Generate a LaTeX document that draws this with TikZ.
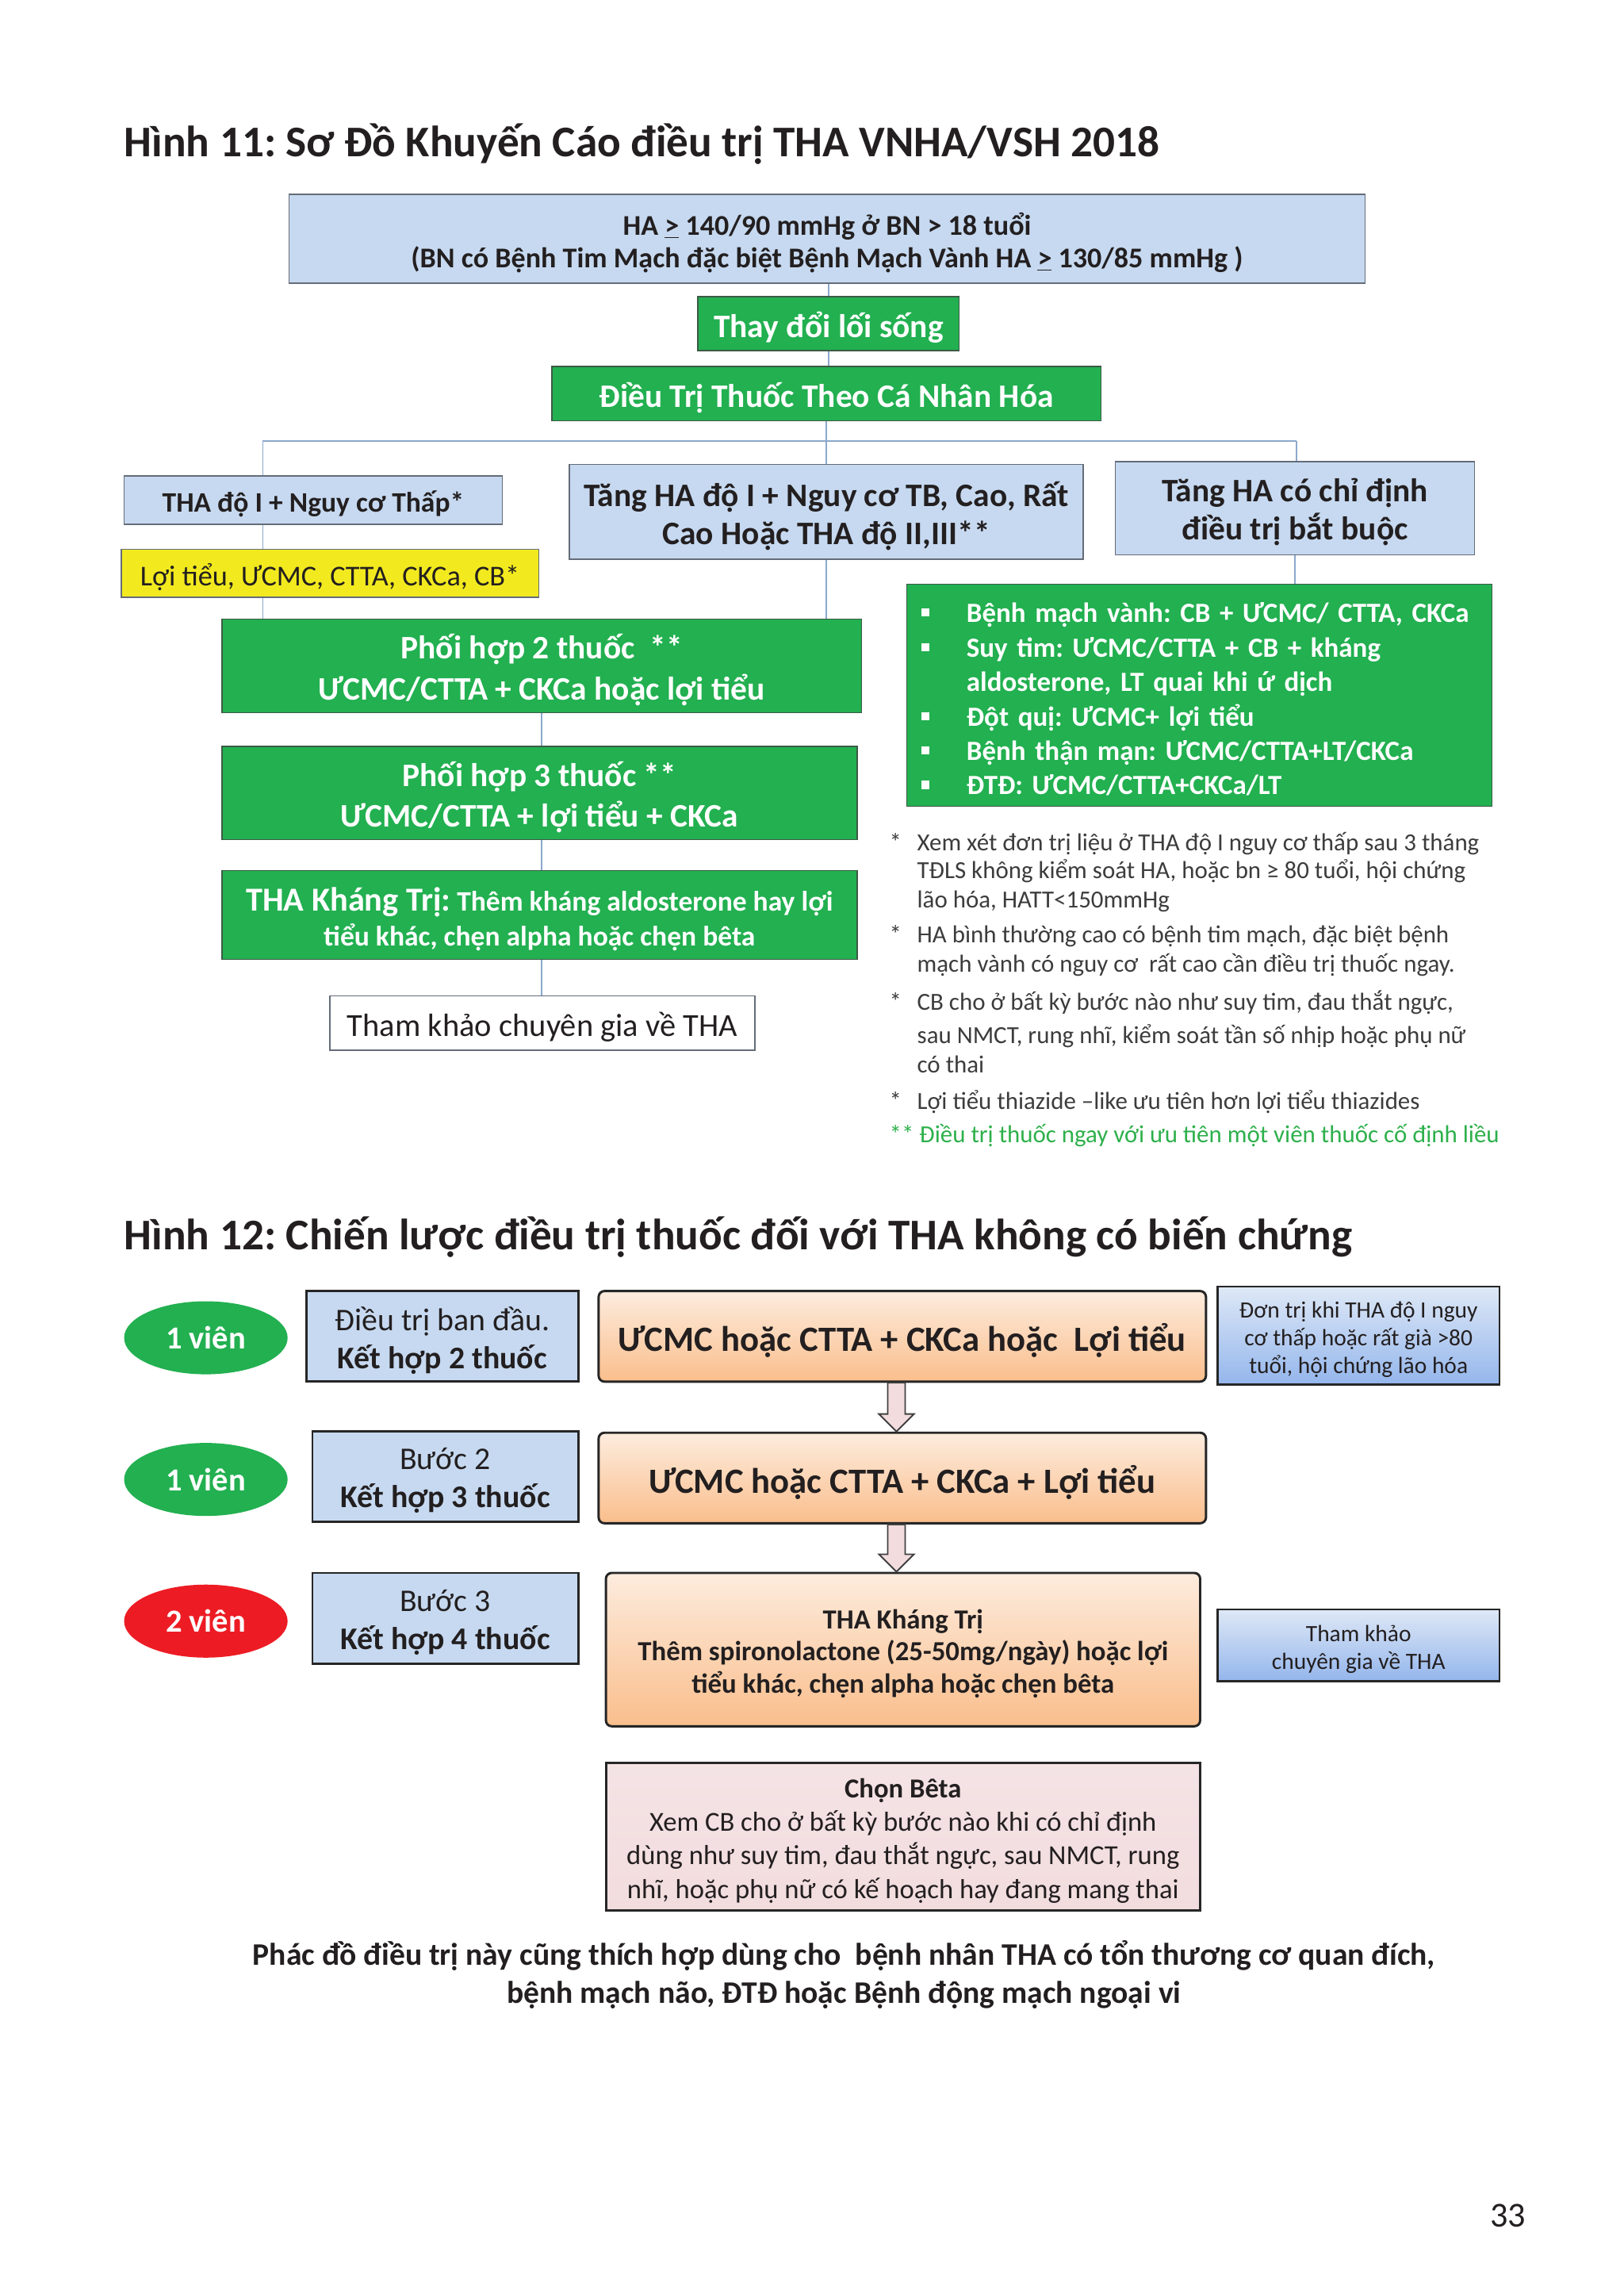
\documentclass[tikz,border=0pt]{standalone}
\usepackage{fontspec}
\setmainfont{Carlito}
\frenchspacing
\usetikzlibrary{calc,shapes.geometric}
\newcommand\fsz[2]{\fontsize{#1}{#2}\selectfont}
\newcommand\dn[1]{\raisebox{-2.8pt}[\height][\depth]{#1}}
\newcommand\bul{\makebox[41pt][l]{\hspace{10pt}\rule[4pt]{5.5pt}{5.5pt}}}
\definecolor{lblue}{RGB}{198,217,240}
\definecolor{grn}{RGB}{34,176,80}
\definecolor{grnb}{RGB}{60,90,70}
\definecolor{ylw}{RGB}{242,234,30}
\definecolor{conc}{RGB}{140,168,204}
\definecolor{txt}{RGB}{35,31,32}
\definecolor{bord}{RGB}{100,108,120}
\definecolor{peachtop}{RGB}{253,236,222}
\definecolor{peachbot}{RGB}{250,190,140}
\definecolor{bluetop}{RGB}{222,232,246}
\definecolor{bluebot}{RGB}{148,182,236}
\definecolor{pinkc}{RGB}{242,220,222}
\definecolor{redc}{RGB}{237,28,36}
\definecolor{notegreen}{RGB}{45,176,75}
\definecolor{notetxt}{RGB}{60,60,60}
\begin{document}
\begin{tikzpicture}[x=1pt,y=-1pt,
  box/.style={rectangle, inner sep=0pt, align=center, text=txt},
  bluebox/.style={box, draw=bord, fill=lblue, line width=0.8pt},
  greenbox/.style={box, draw=grnb, fill=grn, text=white, line width=0.8pt, font=\bfseries\fsz{22.5}{28}},
  con/.style={draw=conc, line width=0.9pt},
  stepbox/.style={box, draw=black!85, fill=lblue, line width=1.6pt, minimum width=182pt, minimum height=62pt, font=\fsz{21.6}{26}},
  orangebox/.style={box, draw=black!85, line width=1.6pt, rounded corners=4pt, top color=peachtop, bottom color=peachbot},
  sidebox/.style={box, draw=black!85, line width=1.4pt, top color=bluetop, bottom color=bluebot, font=\fsz{16}{19}, minimum width=193pt},
  pill/.style={ellipse, minimum width=112pt, minimum height=50pt, inner sep=0pt, text=white, font=\bfseries\fsz{22}{24}},
  blockarrow/.style={draw=black!75, line width=1pt, fill=pinkc},
  note/.style={anchor=base west, inner sep=0pt, text=notetxt, font=\fsz{16.8}{19}},
  title/.style={anchor=base west, inner sep=0pt, text=txt, font=\bfseries\fsz{30}{34}}
]
\useasboundingbox[fill=white] (0,0) rectangle (1112,1568);

% ---------- Figure 11 ----------
\node[title] (t1) at (85,107.5) {Hình 11: Sơ Đồ Khuyến Cáo điều trị THA VNHA/VSH 2018};

\node[bluebox, minimum width=737pt, minimum height=61pt, font=\bfseries\fsz{19.6}{22}] (ha) at (566.5,163.5)
  {\dn{HA \underline{>} 140/90 mmHg ở BN > 18 tuổi}\\\dn{(BN có Bệnh Tim Mạch đặc biệt Bệnh Mạch Vành HA \underline{>} 130/85 mmHg )}};
\node[greenbox, minimum width=179pt, minimum height=37pt] (thay) at (567.5,221.5) {\dn{Thay đổi lối sống}};
\node[greenbox, minimum width=376pt, minimum height=37pt] (dieu) at (566,269.5) {\dn{Điều Trị Thuốc Theo Cá Nhân Hóa}};

\node[bluebox, minimum width=259pt, minimum height=33pt, font=\bfseries\fsz{19.3}{22}] (tha1) at (214.5,342.5) {\dn{THA độ I + Nguy cơ Thấp*}};
\node[box, draw=bord, fill=ylw, line width=0.8pt, minimum width=286pt, minimum height=33pt, font=\fsz{19.7}{22}] (ylw) at (226,392.5) {\dn{Lợi tiểu, ƯCMC, CTTA, CKCa, CB*}};
\node[bluebox, minimum width=352pt, minimum height=65pt, font=\bfseries\fsz{22.5}{26}] (tang) at (566,350.5) {\dn{Tăng HA độ I + Nguy cơ TB, Cao, Rất}\\\dn{Cao Hoặc THA độ II,III**}};
\node[bluebox, minimum width=246pt, minimum height=64pt, font=\bfseries\fsz{22.5}{26}] (bb) at (887,348) {\dn{Tăng HA có chỉ định}\\\dn{điều trị bắt buộc}};

\node[greenbox, minimum width=401pt, minimum height=152pt, text width=401pt, align=left, font=\bfseries\fsz{19}{23.6}] (list) at (821.5,476)
  {\dn{\bul Bệnh mạch vành: CB + ƯCMC/ CTTA, CKCa}\\
   \dn{\bul Suy tim: ƯCMC/CTTA + CB + kháng}\\
   \dn{\hspace*{41pt}aldosterone, LT quai khi ứ dịch}\\
   \dn{\bul Đột quị: ƯCMC+ lợi tiểu}\\
   \dn{\bul Bệnh thận mạn: ƯCMC/CTTA+LT/CKCa}\\
   \dn{\bul ĐTĐ: ƯCMC/CTTA+CKCa/LT}};

\node[greenbox, minimum width=438pt, minimum height=64pt] (ph2) at (371,456) {\dn{Phối hợp 2 thuốc\ \ **}\\\dn{ƯCMC/CTTA + CKCa hoặc lợi tiểu}};
\node[greenbox, minimum width=435pt, minimum height=64pt] (ph3) at (369.5,543) {\dn{Phối hợp 3 thuốc **}\\\dn{ƯCMC/CTTA + lợi tiểu + CKCa}};
\node[greenbox, minimum width=435pt, minimum height=61pt, font=\bfseries\fsz{19.3}{24}] (khang) at (369.5,626.5)
  {\dn{{\fsz{23}{24}THA Kháng Trị:} Thêm kháng aldosterone hay lợi}\\\dn{tiểu khác, chẹn alpha hoặc chẹn bêta}};
\node[box, draw=bord, fill=white, line width=0.8pt, minimum width=291pt, minimum height=37pt, font=\fsz{22}{26}] (tk) at (371.5,700.5) {\dn{Tham khảo chuyên gia về THA}};

% connectors
\coordinate (busL) at (180,302);
\coordinate (busR) at (888,302);
\draw[con] (busL) -- (busR);
\draw[con] (thay.north |- ha.south) -- (thay.north);
\draw[con] (thay.south) -- (thay.south |- dieu.north);
\draw[con] (dieu.south) -- (dieu.south |- tang.north);
\draw[con] (tang.south) -- (tang.south |- ph2.north);
\draw[con] (busL) -- (busL |- tha1.north);
\draw[con] (busL |- tha1.south) -- (busL |- ylw.north);
\draw[con] (busL |- ylw.south) -- (busL |- ph2.north);
\draw[con] (busR) -- (busR |- bb.north);
\draw[con] (bb.south) -- (bb.south |- list.north);
\draw[con] (ph2.south) -- (ph2.south |- ph3.north);
\draw[con] (ph2.south |- ph3.south) -- (ph2.south |- khang.north);
\draw[con] (ph2.south |- khang.south) -- (ph2.south |- tk.north);

% notes
\node[note] (n1a) at (609,582.5) {\makebox[19pt][l]{*}Xem xét đơn trị liệu ở THA độ I nguy cơ thấp sau 3 tháng};
\node[note] (n1b) at (628,601.5) {TĐLS không kiểm soát HA, hoặc bn ≥ 80 tuổi, hội chứng};
\node[note] (n1c) at (628,621.5) {lão hóa, HATT<150mmHg};
\node[note] (n2a) at (609,645.5) {\makebox[19pt][l]{*}HA bình thường cao có bệnh tim mạch, đặc biệt bệnh};
\node[note] (n2b) at (628,665.5) {mạch vành có nguy cơ\ \ rất cao cần điều trị thuốc ngay.};
\node[note] (n3a) at (609,691.5) {\makebox[19pt][l]{*}CB cho ở bất kỳ bước nào như suy tim, đau thắt ngực,};
\node[note] (n3b) at (628,714.5) {sau NMCT, rung nhĩ, kiểm soát tần số nhịp hoặc phụ nữ};
\node[note] (n3c) at (628,734.5) {có thai};
\node[note] (n4) at (609,759.5) {\makebox[19pt][l]{*}Lợi tiểu thiazide –like ưu tiên hơn lợi tiểu thiazides};
\node[note, text=notegreen] (n5) at (609,782.5) {** Điều trị thuốc ngay với ưu tiên một viên thuốc cố định liều};

% ---------- Figure 12 ----------
\node[title] (t2) at (85,855.5) {Hình 12: Chiến lược điều trị thuốc đối với THA không có biến chứng};

\node[pill, fill=grn] (e1) at (141,916) {1 viên};
\node[pill, fill=grn] (e2) at (141,1013) {1 viên};
\node[pill, fill=redc] (e3) at (141,1110) {2 viên};

\node[stepbox, minimum width=186pt] (s1) at (303,915) {\dn{Điều trị ban đầu.}\\\dn{\textbf{Kết hợp 2 thuốc}}};
\node[stepbox] (s2) at (305,1011) {\dn{Bước 2}\\\dn{\textbf{Kết hợp 3 thuốc}}};
\node[stepbox] (s3) at (305,1108) {\dn{Bước 3}\\\dn{\textbf{Kết hợp 4 thuốc}}};

\node[orangebox, minimum width=416pt, minimum height=62pt, font=\bfseries\fsz{24.3}{28}] (o1) at (618,915) {\dn{ƯCMC hoặc CTTA + CKCa hoặc\ \ Lợi tiểu}};
\node[orangebox, minimum width=416pt, minimum height=62pt, font=\bfseries\fsz{24.3}{28}] (o2) at (618,1012) {\dn{ƯCMC hoặc CTTA + CKCa + Lợi tiểu}};
\node[orangebox, minimum width=407pt, minimum height=105pt, font=\bfseries\fsz{18.9}{22}] (o3) at (618.5,1129.5)
  {\dn{THA Kháng Trị}\\\dn{Thêm spironolactone (25-50mg/ngày) hoặc lợi}\\\dn{tiểu khác, chẹn alpha hoặc chẹn bêta}};

\node[sidebox, minimum height=67pt] (r1) at (930.5,914.5) {\dn{Đơn trị khi THA độ I nguy}\\\dn{cơ thấp hoặc rất già >80}\\\dn{tuổi, hội chứng lão hóa}};
\node[sidebox, minimum height=49pt] (r3) at (930.5,1126.5) {\dn{Tham khảo}\\\dn{chuyên gia về THA}};

\node[box, draw=black!85, line width=1.6pt, top color=pinkc!80!white, bottom color=pinkc, minimum width=407pt, minimum height=101pt, font=\fsz{18.8}{23}] (beta) at (618.5,1257.5)
  {\dn{\textbf{Chọn Bêta}}\\\dn{Xem CB cho ở bất kỳ bước nào khi có chỉ định}\\\dn{dùng như suy tim, đau thắt ngực, sau NMCT, rung}\\\dn{nhĩ, hoặc phụ nữ có kế hoạch hay đang mang thai}};

\draw[blockarrow] let \p1=(614,0 |- o1.south), \p2=(614,0 |- o2.north) in
  (\x1-6pt,\y1) -- (\x1+6pt,\y1) -- (\x1+6pt,\y2+12pt) -- (\x1+12pt,\y2+12pt) -- (\x1,\y2)
  -- (\x1-12pt,\y2+12pt) -- (\x1-6pt,\y2+12pt) -- cycle;
\draw[blockarrow] let \p1=(614,0 |- o2.south), \p2=(614,0 |- o3.north) in
  (\x1-6pt,\y1) -- (\x1+6pt,\y1) -- (\x1+6pt,\y2+12pt) -- (\x1+12pt,\y2+12pt) -- (\x1,\y2)
  -- (\x1-12pt,\y2+12pt) -- (\x1-6pt,\y2+12pt) -- cycle;

\node[box, font=\bfseries\fsz{21.5}{26}] (bottom) at (578,1352)
  {Phác đồ điều trị này cũng thích hợp dùng cho\ \ bệnh nhân THA có tổn thương cơ quan đích,\\bệnh mạch não, ĐTĐ hoặc Bệnh động mạch ngoại vi};

\node[inner sep=0pt, text=txt, font=\fsz{24}{26}] (pg) at (1033,1517) {33};
\end{tikzpicture}
\end{document}
